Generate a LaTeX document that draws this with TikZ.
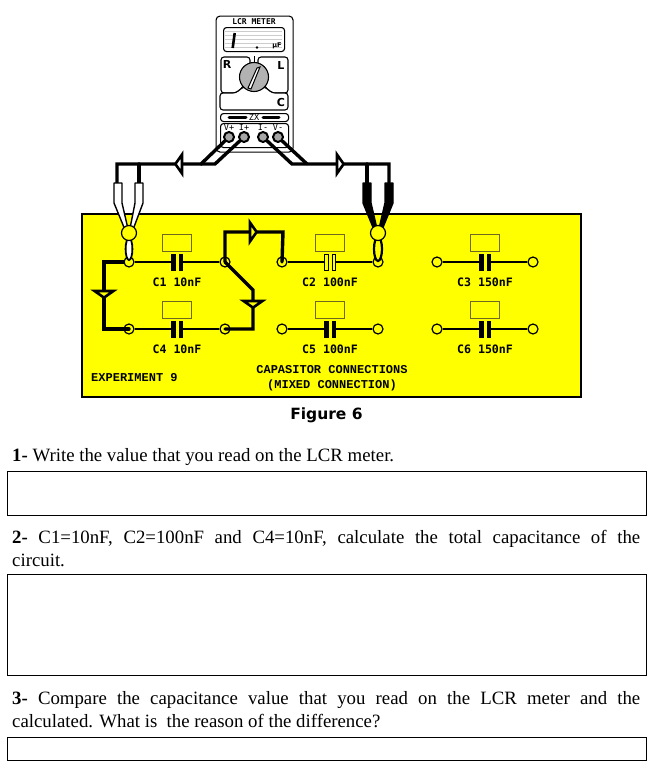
\documentclass[tikz,border=0pt]{standalone}
\usepackage{fontspec}
\setmainfont{Liberation Serif}
\newfontfamily\labelfont{DejaVu Sans Mono}
\newfontfamily\boardfont{Liberation Mono}
\newfontfamily\figfont{DejaVu Sans}
\usetikzlibrary{shapes.geometric}
\definecolor{boardyellow}{RGB}{255,255,0}
\definecolor{boxline}{RGB}{110,105,30}
\tikzset{
	wire/.style={line width=3.4pt,line cap=round,line join=miter},
	lead/.style={line width=1.2pt},
	terminal/.style={circle,draw,line width=1.2pt,fill=boardyellow,minimum size=10pt,inner sep=0pt},
	ball/.style={circle,draw,line width=1.2pt,minimum size=15pt,inner sep=0pt,fill=boardyellow},
	socket/.style={circle,draw,line width=2pt,fill=gray!70,minimum size=10pt,inner sep=0pt},
	plate/.style={rectangle,draw,line width=.7pt,minimum width=3.4pt,minimum height=16pt,inner sep=0pt},
	flow/.style={isosceles triangle,isosceles triangle apex angle=110,draw,line width=2.6pt,line join=miter,
		minimum size=6.6pt,inner sep=0pt},
	valuebox/.style={rectangle,draw=boxline,line width=.8pt,minimum width=29pt,minimum height=17pt,inner sep=0pt},
	caplabel/.style={font=\labelfont\bfseries\fontsize{11.6}{12}\selectfont},
	boardtext/.style={font=\boardfont\bfseries\fontsize{12}{14.5}\selectfont,align=center,inner sep=0pt},
	panel/.style={draw,line width=1.1pt,fill=white,rounded corners=3pt},
	para/.style={anchor=north west,inner sep=0pt,text width=628pt,align=justify,
		font=\fontsize{18.8}{23}\selectfont},
	answer/.style={anchor=north west,draw,line width=.7pt,minimum width=639pt,inner sep=0pt}
}
\begin{document}
\begin{tikzpicture}[x=1pt,y=-1pt,>=latex]
	\useasboundingbox (0,0) rectangle (656,771);

	% the board
	\node[rectangle,draw,line width=1.6pt,fill=boardyellow,anchor=north west,minimum width=499pt,minimum height=183pt,inner sep=0pt] (board) at (81,213) {};

	% the six capacitors
	\foreach \name/\cx/\cy/\ctext/\pcol in {
		c1/177/262/C1 10nF/black,
		c2/330/262/C2 100nF/boardyellow,
		c3/485/262/C3 150nF/black,
		c4/177/329/C4 10nF/black,
		c5/330/329/C5 100nF/black,
		c6/485/329/C6 150nF/black} {
		\node[terminal] (\name l) at (\cx-48,\cy) {};
		\node[terminal] (\name r) at (\cx+48,\cy) {};
		\node[plate,fill=\pcol] (\name a) at (\cx-3.7,\cy) {};
		\node[plate,fill=\pcol] (\name b) at (\cx+3.7,\cy) {};
		\draw[lead] (\name l) -- (\name a);
		\draw[lead] (\name b) -- (\name r);
		\node[valuebox] (\name v) at (\cx,\cy-19) {};
		\node[caplabel] (\name t) at (\cx,\cy+20) {\ctext};
	}

	% texts on the board
	\node[boardtext,anchor=west] (expt) at (91,378) {EXPERIMENT 9};
	\node[boardtext] (title) at (332,378) {CAPASITOR CONNECTIONS\\(MIXED CONNECTION)};

	% the meter
	\node[panel,rounded corners=4pt,anchor=north west,minimum width=77pt,minimum height=136pt,inner sep=0pt] (meter) at (215.5,15.5) {};
	\node[font=\labelfont\bfseries\fontsize{8}{9}\selectfont] (mname) at (254,22) {LCR METER};
	\node[panel,anchor=north west,minimum width=61pt,minimum height=24pt,inner sep=0pt] (display) at (223,27) {};
	\foreach \ly in {31,35,...,47}
		\draw[gray!40,line width=.4pt] (225,\ly) -- (282,\ly);
	\draw[line width=2.6pt] (234.7,33) -- (232.7,48);
	\fill (257,47.5) circle(1.4pt);
	\node[font=\figfont\bfseries\fontsize{6.5}{7}\selectfont,inner sep=0pt] (unit) at (277,46) {µF};

	% selector panels
	\draw[panel] (221,57) -- (250,57) -- (250,66) -- (243,87) -- (236,93) -- (221,93) -- cycle;
	\draw[panel] (288,57) -- (258,57) -- (258,66) -- (265,87) -- (272,93) -- (288,93) -- cycle;
	\draw[panel] (220,93) -- (236,93) -- (243,87) -- (265,87) -- (272,93) -- (288,93) -- (288,110) -- (220,110) -- cycle;
	\node[font=\figfont\bfseries\fontsize{11}{12}\selectfont] (rmark) at (227,64) {R};
	\node[font=\figfont\bfseries\fontsize{11}{12}\selectfont] (lmark) at (281,65) {L};
	\node[font=\figfont\bfseries\fontsize{11}{12}\selectfont] (cmark) at (281,102) {C};
	\draw[line width=1pt] (254,56) -- (254,63);
	\node[circle,draw,line width=1.1pt,fill=gray!60,minimum size=29pt,inner sep=0pt] (knob) at (254,77) {};
	\draw[line width=1pt,fill=white] (248,88) -- (257,68) -- (260,67) -- (251,89) -- cycle;

	% zx strip and socket panel
	\node[panel,anchor=north west,minimum width=68pt,minimum height=8pt,inner sep=0pt] (zxstrip) at (220,113) {};
	\draw[line width=3pt,line cap=round] (229,117) -- (246,117) (263,117) -- (279,117);
	\node[font=\labelfont\fontsize{8.5}{9}\selectfont,inner sep=0pt] (zx) at (254,117) {ZX};
	\node[panel,anchor=north west,minimum width=68pt,minimum height=24pt,inner sep=0pt] (sockets) at (220,123) {};
	\foreach \name/\sx/\stext in {up/229/V+,ip/244/I+,im/263/I-,um/278/V-} {
		\node[socket] (\name) at (\sx,137) {};
		\node[font=\labelfont\fontsize{8.5}{9}\selectfont,inner sep=0pt] (\name t) at (\sx,127) {\stext};
	}

	% corner points of the leads
	\coordinate (upa) at (201,164);
	\coordinate (ipa) at (215,164);
	\coordinate (ima) at (292,164);
	\coordinate (uma) at (307,164);
	\coordinate (lout) at (117,164);
	\coordinate (lin) at (139,164);
	\coordinate (rin) at (367,164);
	\coordinate (rout) at (389,164);

	% leads from the meter
	\draw[wire] (up) -- (upa) -- (lout) -- (117,185);
	\draw[wire] (ip) -- (ipa) -- (upa);
	\draw[wire] (lin) -- (139,185);
	\draw[wire] (im) -- (ima) -- (rout) -- (389,185);
	\draw[wire] (um) -- (uma);
	\draw[wire] (rin) -- (367,185);
	\node[flow,fill=white,shape border rotate=180] (lflow) at (179,164) {};
	\node[flow,fill=white] (rflow) at (340,164) {};

	% the probes
	\foreach \px/\tx/\pcol in {114/127/white,135/131/white,363/376/black,385/380/black}
		\draw[line width=1.4pt,fill=\pcol,line join=round] (\px,183) -- (\px+8,183) -- (\px+8,203) -- (\tx+1.5,231) -- (\tx-1.5,231) -- (\px,203) -- cycle;
	\draw[line width=1.8pt,fill=white] (129,249) ellipse(3.4pt and 11pt);
	\draw[line width=2.2pt,fill=boardyellow] (378,249) ellipse(4pt and 12pt);
	\node[ball] (lball) at (129,233) {};
	\node[ball] (rball) at (378,233) {};

	% jumpers on the board
	\coordinate (jta) at (225,232);
	\coordinate (jtb) at (283,232);
	\coordinate (jra) at (253,290);
	\coordinate (jrb) at (253,329);
	\coordinate (jla) at (104,262);
	\coordinate (jlb) at (104,329);
	\draw[wire] (c1l) -- (jla) -- (jlb) -- (c4l.center);
	\draw[wire] (c1r.center) -- (jta) -- (jtb) -- (c2l.center);
	\draw[wire] (c1r.center) -- (jra) -- (jrb) -- (c4r.center);
	\node[flow,fill=boardyellow,shape border rotate=-90] (lj) at (104,294) {};
	\node[flow,fill=boardyellow,shape border rotate=-90] (rj) at (253,304) {};
	\node[flow,fill=boardyellow] (tj) at (253,232) {};

	% caption and questions
	\node[font=\figfont\bfseries\fontsize{15.5}{18}\selectfont] (cap) at (326.5,415.5) {Figure 6};
	\node[para] (q1) at (12,448) {\textbf{1-} Write the value that you read on the LCR meter.};
	\node[answer,minimum height=44pt] (a1) at (7,471) {};
	\node[para] (q2) at (12,530) {\makebox[628pt][s]{\textbf{2-} C1=10nF, C2=100nF and C4=10nF, calculate the total capacitance of the}\\circuit.};
	\node[answer,minimum height=101pt] (a2) at (7,574) {};
	\node[para] (q3) at (12,691) {\makebox[628pt][s]{\textbf{3-} Compare the capacitance value that you read on the LCR meter and the}\\calculated. What is \ the reason of the difference?};
	\node[answer,minimum height=23pt] (a3) at (7,737) {};
\end{tikzpicture}
\end{document}
